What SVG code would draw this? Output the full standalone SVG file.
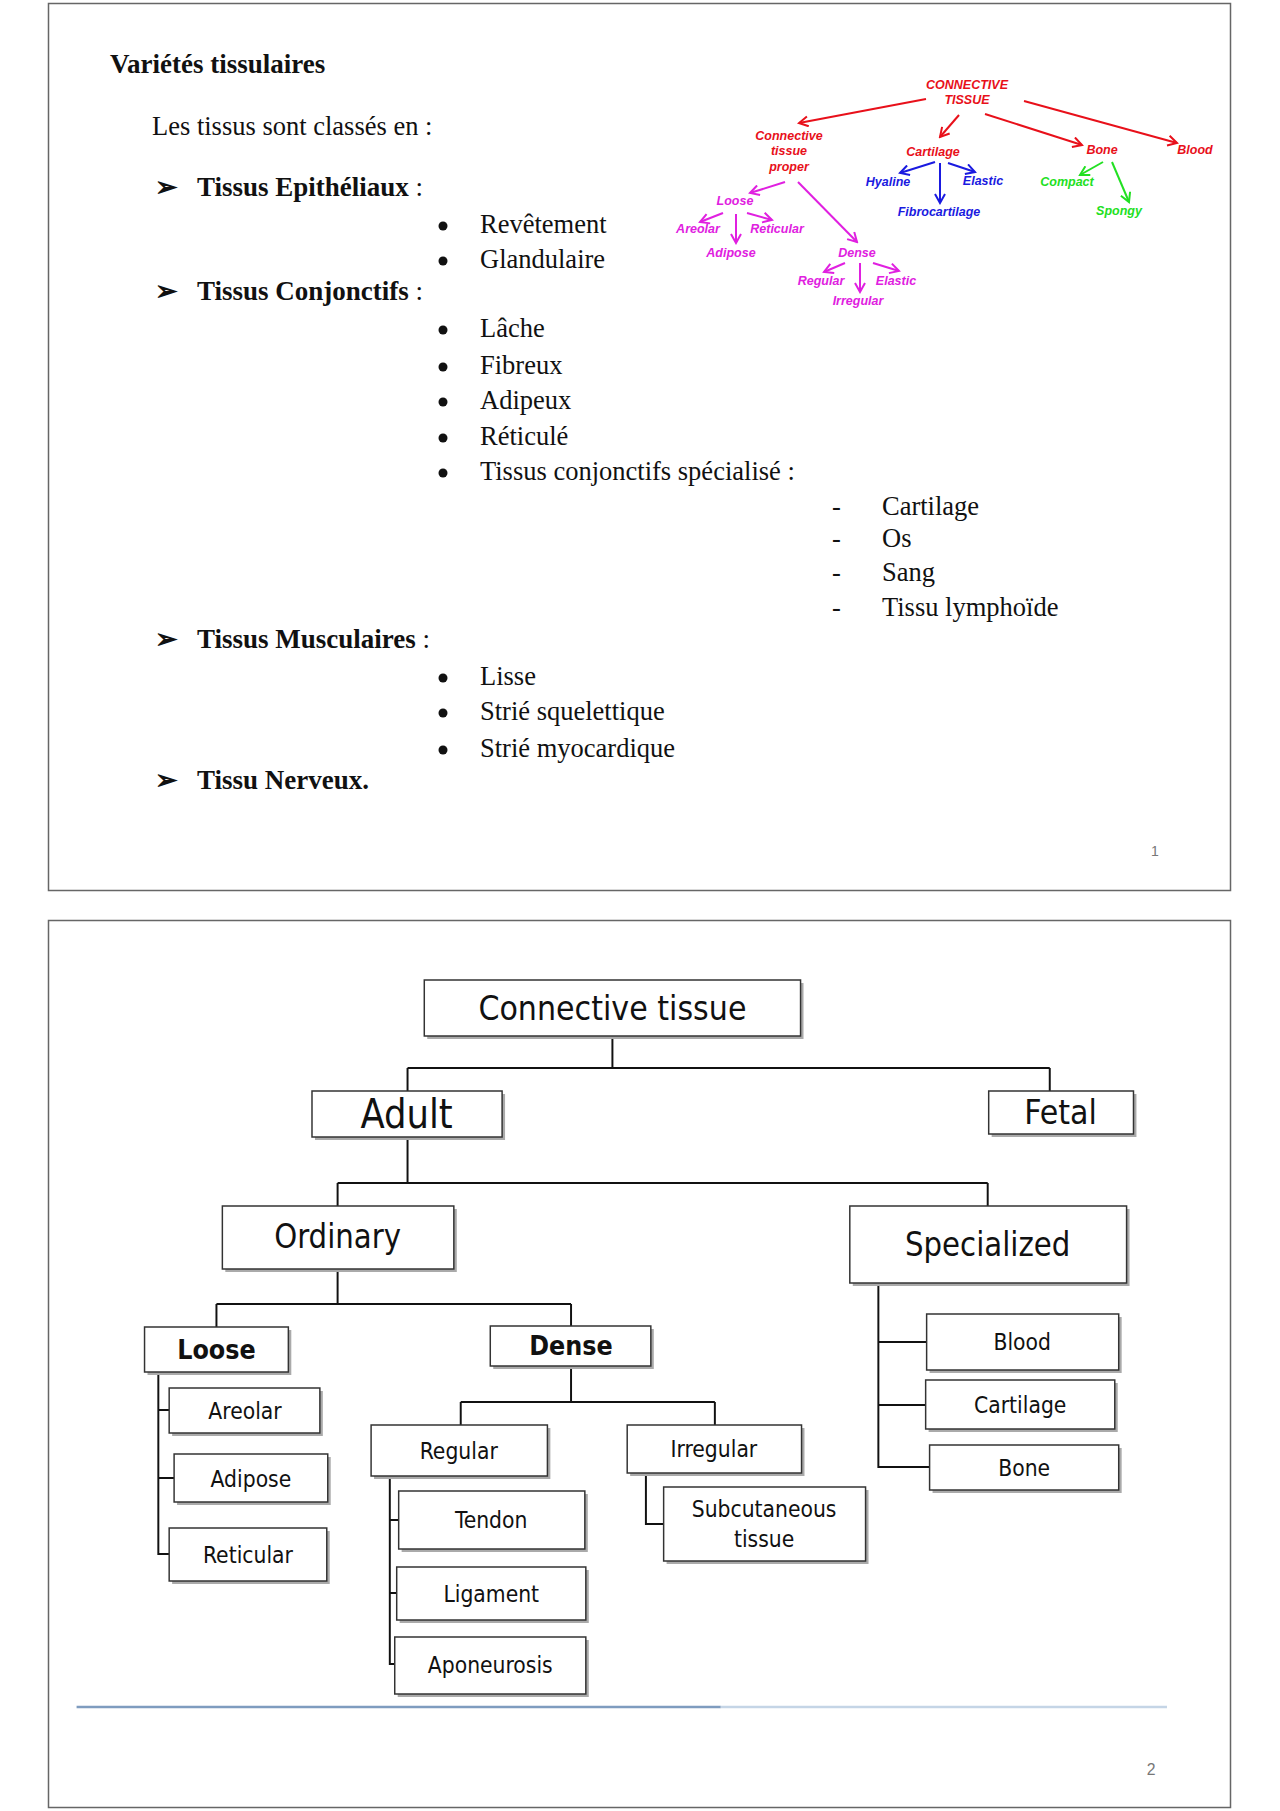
<svg xmlns="http://www.w3.org/2000/svg" width="1280" height="1811" viewBox="0 0 1280 1811">
<style>
.s{font-family:"Liberation Serif","Times New Roman",serif;font-size:26.5px;fill:#111}
.sb{font-family:"Liberation Serif","Times New Roman",serif;font-size:27px;font-weight:bold;fill:#111}
.c{font-family:"Liberation Sans",Arial,sans-serif;font-size:12.5px;font-weight:bold;font-style:italic;text-anchor:middle}
.n{font-family:"DejaVu Sans Condensed","Liberation Sans",sans-serif;text-anchor:middle;fill:#111}
.box{fill:#fff;stroke:#333;stroke-width:1.5}
.sh{fill:#aaa}
.ln{stroke:#111;stroke-width:2;fill:none}
.a{stroke-width:2;fill:none}
</style>
<defs>
<marker id="mr" markerWidth="12" markerHeight="12" refX="10" refY="6" orient="auto" markerUnits="userSpaceOnUse"><path d="M1,1 L10,6 L1,11" fill="none" stroke="#e8101a" stroke-width="2"/></marker>
<marker id="mb" markerWidth="12" markerHeight="12" refX="10" refY="6" orient="auto" markerUnits="userSpaceOnUse"><path d="M1,1 L10,6 L1,11" fill="none" stroke="#1a1ae0" stroke-width="2"/></marker>
<marker id="mg" markerWidth="12" markerHeight="12" refX="10" refY="6" orient="auto" markerUnits="userSpaceOnUse"><path d="M1,1 L10,6 L1,11" fill="none" stroke="#22e022" stroke-width="2"/></marker>
<marker id="mm" markerWidth="12" markerHeight="12" refX="10" refY="6" orient="auto" markerUnits="userSpaceOnUse"><path d="M1,1 L10,6 L1,11" fill="none" stroke="#e020e0" stroke-width="2"/></marker>
</defs>
<rect width="1280" height="1811" fill="#fff"/>
<rect x="48.5" y="3.5" width="1182" height="887" fill="#fff" stroke="#666" stroke-width="1.5"/>
<rect x="48.5" y="920.5" width="1182" height="887" fill="#fff" stroke="#666" stroke-width="1.5"/>

<g id="slide1text">
<text class="sb" x="110" y="73" font-size="29">Variétés tissulaires</text>
<text class="s" x="152" y="135">Les tissus sont classés en :</text>
<text class="sb" x="155" y="196">➢</text><text class="sb" x="197" y="196">Tissus Epithéliaux <tspan font-weight="normal">:</tspan></text>
<text class="s" x="480" y="233">Revêtement</text>
<text class="s" x="480" y="268">Glandulaire</text>
<text class="sb" x="155" y="300">➢</text><text class="sb" x="197" y="300">Tissus Conjonctifs <tspan font-weight="normal">:</tspan></text>
<text class="s" x="480" y="337">Lâche</text>
<text class="s" x="480" y="374">Fibreux</text>
<text class="s" x="480" y="409">Adipeux</text>
<text class="s" x="480" y="445">Réticulé</text>
<text class="s" x="480" y="480">Tissus conjonctifs spécialisé :</text>
<text class="s" x="832" y="515">-</text><text class="s" x="882" y="515">Cartilage</text>
<text class="s" x="832" y="547">-</text><text class="s" x="882" y="547">Os</text>
<text class="s" x="832" y="581">-</text><text class="s" x="882" y="581">Sang</text>
<text class="s" x="832" y="616">-</text><text class="s" x="882" y="616">Tissu lymphoïde</text>
<text class="sb" x="155" y="648">➢</text><text class="sb" x="197" y="648">Tissus Musculaires <tspan font-weight="normal">:</tspan></text>
<text class="s" x="480" y="685">Lisse</text>
<text class="s" x="480" y="720">Strié squelettique</text>
<text class="s" x="480" y="757">Strié myocardique</text>
<text class="sb" x="155" y="789">➢</text><text class="sb" x="197" y="789">Tissu Nerveux.</text>
<g fill="#111"><circle cx="443" cy="226" r="4.5"/><circle cx="443" cy="261" r="4.5"/><circle cx="443" cy="330" r="4.5"/><circle cx="443" cy="367" r="4.5"/><circle cx="443" cy="402" r="4.5"/><circle cx="443" cy="438" r="4.5"/><circle cx="443" cy="473" r="4.5"/><circle cx="443" cy="678" r="4.5"/><circle cx="443" cy="713" r="4.5"/><circle cx="443" cy="750" r="4.5"/></g>
<text x="1155" y="856" font-family="Liberation Sans,sans-serif" font-size="14" fill="#777" text-anchor="middle">1</text>
</g>

<g id="mini">
<g fill="#e8101a">
<text class="c" x="967" y="89">CONNECTIVE</text><text class="c" x="967" y="104">TISSUE</text>
<text class="c" x="789" y="140">Connective</text><text class="c" x="789" y="155">tissue</text><text class="c" x="789" y="171">proper</text>
<text class="c" x="933" y="156">Cartilage</text><text class="c" x="1102" y="154">Bone</text><text class="c" x="1195" y="154">Blood</text>
</g>
<g fill="#1a1ae0"><text class="c" x="888" y="186">Hyaline</text><text class="c" x="983" y="185">Elastic</text><text class="c" x="939" y="216">Fibrocartilage</text></g>
<g fill="#22e022"><text class="c" x="1067" y="186">Compact</text><text class="c" x="1119" y="215">Spongy</text></g>
<g fill="#e020e0">
<text class="c" x="735" y="205">Loose</text><text class="c" x="698" y="233">Areolar</text><text class="c" x="777" y="233">Reticular</text><text class="c" x="731" y="257">Adipose</text>
<text class="c" x="857" y="257">Dense</text><text class="c" x="821" y="285">Regular</text><text class="c" x="896" y="285">Elastic</text><text class="c" x="858" y="305">Irregular</text>
</g>
<g class="a" stroke="#e8101a" marker-end="url(#mr)">
<line x1="926" y1="99" x2="799" y2="123"/><line x1="959" y1="115" x2="940" y2="137"/><line x1="985" y1="114" x2="1082" y2="145"/><line x1="1024" y1="101" x2="1177" y2="143"/>
</g>
<g class="a" stroke="#1a1ae0" marker-end="url(#mb)">
<line x1="935" y1="162" x2="900" y2="173"/><line x1="940" y1="163" x2="940" y2="203"/><line x1="948" y1="163" x2="975" y2="172"/>
</g>
<g class="a" stroke="#22e022" marker-end="url(#mg)">
<line x1="1103" y1="162" x2="1080" y2="175"/><line x1="1112" y1="162" x2="1129" y2="202"/>
</g>
<g class="a" stroke="#e020e0" marker-end="url(#mm)">
<line x1="785" y1="182" x2="750" y2="193"/><line x1="798" y1="182" x2="857" y2="242"/>
<line x1="723" y1="213" x2="700" y2="222"/><line x1="736" y1="214" x2="736" y2="243"/><line x1="747" y1="213" x2="772" y2="220"/>
<line x1="845" y1="263" x2="824" y2="272"/><line x1="860" y1="263" x2="860" y2="292"/><line x1="873" y1="263" x2="899" y2="271"/>
</g>
</g>

<g id="slide2" transform="translate(49,0) scale(0.985,1) translate(-49,0)">
<g id="connectors">
<path class="ln" d="M621,1036 V1068 M413,1068 H1065 M413,1068 V1091 M1065,1068 V1091"/>
<path class="ln" d="M413,1137 V1183 M342,1183 H1002 M342,1183 V1206 M1002,1183 V1206"/>
<path class="ln" d="M342,1269 V1304 M219,1304 H579 M219,1304 V1327 M579,1304 V1326"/>
<path class="ln" d="M160,1372 V1554 H171 M160,1410 H171 M160,1478 H176"/>
<path class="ln" d="M579,1366 V1402 M467,1402 H725 M467,1402 V1425 M725,1402 V1425"/>
<path class="ln" d="M395,1476 V1664 H400 M395,1520 H404 M395,1593 H402"/>
<path class="ln" d="M655,1473 V1524 H673"/>
<path class="ln" d="M891,1283 V1467 H943 M891,1342 H940 M891,1405 H939"/>
</g>

<g id="n-connective"><rect class="sh" x="433" y="983" width="382" height="56"/><rect class="box" x="430" y="980" width="382" height="56"/><text class="n" x="621" y="1020" font-size="34">Connective tissue</text></g>
<g id="n-adult"><rect class="sh" x="319" y="1094" width="193" height="46"/><rect class="box" x="316" y="1091" width="193" height="46"/><text class="n" x="412" y="1128" font-size="40">Adult</text></g>
<g id="n-fetal"><rect class="sh" x="1006" y="1094" width="147" height="43"/><rect class="box" x="1003" y="1091" width="147" height="43"/><text class="n" x="1076" y="1124" font-size="34">Fetal</text></g>
<g id="n-ordinary"><rect class="sh" x="228" y="1209" width="235" height="63"/><rect class="box" x="225" y="1206" width="235" height="63"/><text class="n" x="342" y="1248" font-size="33">Ordinary</text></g>
<g id="n-specialized"><rect class="sh" x="865" y="1209" width="281" height="77"/><rect class="box" x="862" y="1206" width="281" height="77"/><text class="n" x="1002" y="1256" font-size="33">Specialized</text></g>
<g id="n-loose"><rect class="sh" x="149" y="1330" width="146" height="45"/><rect class="box" x="146" y="1327" width="146" height="45"/><text class="n" x="219" y="1359" font-size="27" font-weight="bold">Loose</text></g>
<g id="n-dense"><rect class="sh" x="500" y="1329" width="163" height="40"/><rect class="box" x="497" y="1326" width="163" height="40"/><text class="n" x="579" y="1355" font-size="27" font-weight="bold">Dense</text></g>
<g id="n-areolar"><rect class="sh" x="174" y="1391" width="153" height="45"/><rect class="box" x="171" y="1388" width="153" height="45"/><text class="n" x="248" y="1419" font-size="23">Areolar</text></g>
<g id="n-adipose"><rect class="sh" x="179" y="1457" width="156" height="48"/><rect class="box" x="176" y="1454" width="156" height="48"/><text class="n" x="254" y="1487" font-size="23">Adipose</text></g>
<g id="n-reticular"><rect class="sh" x="174" y="1531" width="160" height="53"/><rect class="box" x="171" y="1528" width="160" height="53"/><text class="n" x="251" y="1563" font-size="23">Reticular</text></g>
<g id="n-regular"><rect class="sh" x="379" y="1428" width="179" height="51"/><rect class="box" x="376" y="1425" width="179" height="51"/><text class="n" x="465" y="1459" font-size="23">Regular</text></g>
<g id="n-irregular"><rect class="sh" x="639" y="1428" width="177" height="48"/><rect class="box" x="636" y="1425" width="177" height="48"/><text class="n" x="724" y="1457" font-size="23">Irregular</text></g>
<g id="n-tendon"><rect class="sh" x="407" y="1494" width="189" height="58"/><rect class="box" x="404" y="1491" width="189" height="58"/><text class="n" x="498" y="1528" font-size="23">Tendon</text></g>
<g id="n-ligament"><rect class="sh" x="405" y="1570" width="192" height="53"/><rect class="box" x="402" y="1567" width="192" height="53"/><text class="n" x="498" y="1602" font-size="23">Ligament</text></g>
<g id="n-aponeurosis"><rect class="sh" x="403" y="1640" width="194" height="57"/><rect class="box" x="400" y="1637" width="194" height="57"/><text class="n" x="497" y="1673" font-size="23">Aponeurosis</text></g>
<g id="n-subcutaneous"><rect class="sh" x="676" y="1490" width="205" height="74"/><rect class="box" x="673" y="1487" width="205" height="74"/><text class="n" x="775" y="1517" font-size="23">Subcutaneous</text><text class="n" x="775" y="1547" font-size="23">tissue</text></g>
<g id="n-blood"><rect class="sh" x="943" y="1317" width="195" height="56"/><rect class="box" x="940" y="1314" width="195" height="56"/><text class="n" x="1037" y="1350" font-size="23">Blood</text></g>
<g id="n-cartilage"><rect class="sh" x="942" y="1383" width="192" height="49"/><rect class="box" x="939" y="1380" width="192" height="49"/><text class="n" x="1035" y="1413" font-size="23">Cartilage</text></g>
<g id="n-bone"><rect class="sh" x="946" y="1448" width="192" height="45"/><rect class="box" x="943" y="1445" width="192" height="45"/><text class="n" x="1039" y="1476" font-size="23">Bone</text></g>

<line x1="77" y1="1707" x2="731" y2="1707" stroke="#7f9cbf" stroke-width="2.5"/>
<line x1="731" y1="1707" x2="1184" y2="1707" stroke="#c5d5e6" stroke-width="2.5"/>
<text x="1168" y="1775" font-family="Liberation Sans,sans-serif" font-size="16" fill="#777" text-anchor="middle">2</text>
</g>
</svg>
